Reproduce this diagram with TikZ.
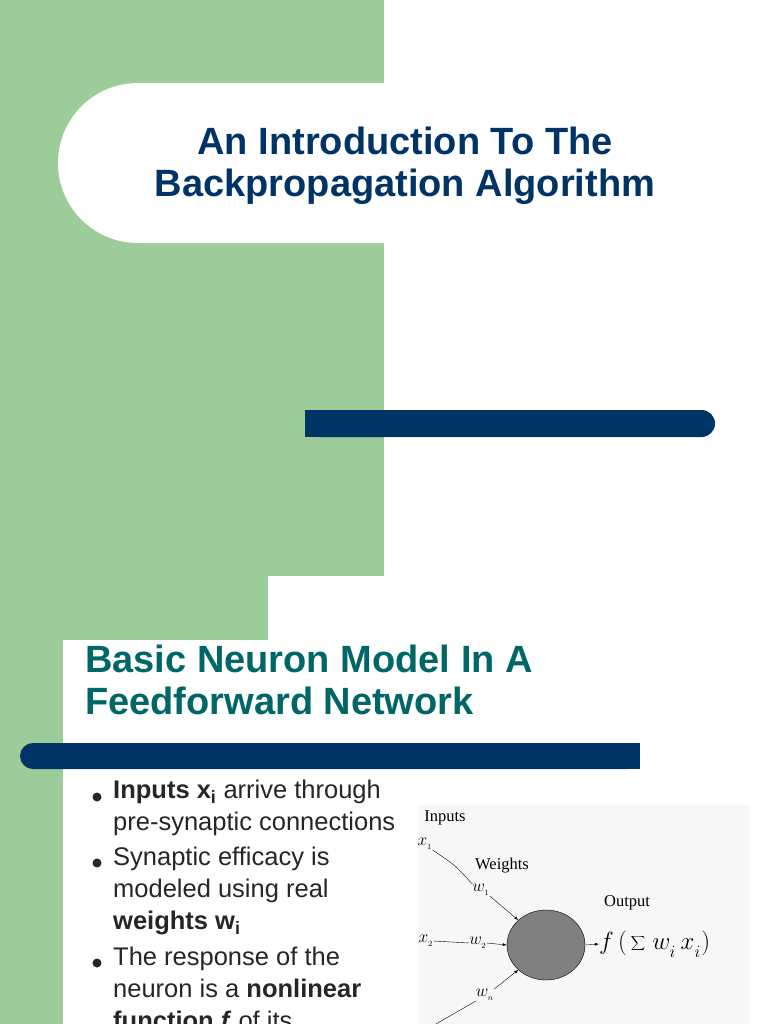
\documentclass[tikz,border=0pt]{standalone}
\usepackage{fontspec}
\usetikzlibrary{shapes.geometric}
\setmainfont{Liberation Sans}
\newfontfamily\serifa{Liberation Serif}
\begin{document}
\begin{tikzpicture}[x=1pt,y=-1pt,
  ttl/.style={font=\fontsize{38}{42}\selectfont\bfseries,align=center,text=titblue},
  ttl2/.style={font=\fontsize{38}{42}\selectfont\bfseries,align=left,text=titteal,anchor=north west,inner sep=0},
  bul/.style={font=\fontsize{25.5}{32}\selectfont,align=left,anchor=north west,inner sep=0,text=black!85},
  dia/.style={font=\serifa\fontsize{16.5}{18}\selectfont,inner sep=0},
  arr/.style={-latex,thin}]
\definecolor{grn}{HTML}{9BCC9A}
\definecolor{bar}{HTML}{003366}
\definecolor{titblue}{HTML}{003366}
\definecolor{titteal}{HTML}{006666}
\useasboundingbox (0,0) rectangle (768,1024);
\fill[white] (0,0) rectangle (768,1024);
% slide 1
\fill[grn] (0,0) rectangle (384,576);
\fill[white,rounded corners=80] (58,83) rectangle (900,243);
\node[ttl] (t1) at (405,166) {An Introduction To The\\Backpropagation Algorithm};
\fill[bar,rounded corners=13.5] (305,410) rectangle (715,437);
\fill[bar] (305,410) rectangle (340,437);
% slide 2
\fill[grn] (0,576) rectangle (268,640);
\fill[grn] (0,640) rectangle (63,1024);
\fill[white,rounded corners=35] (63,640) rectangle (900,1100);
\node[ttl2] (t2) at (85,645) {Basic Neuron Model In A\\Feedforward Network};
\fill[bar,rounded corners=13] (20,743) rectangle (640,769);
\fill[bar] (600,743) rectangle (640,769);
% bullets
\foreach \y in {797,863,963}{\fill[black!85] (97,\y) circle (4.5);}
\node[bul] (b1) at (113,780) {\textbf{Inputs x\textsubscript{i}} arrive through\\pre-synaptic connections};
\node[bul] (b2) at (113,847) {Synaptic efficacy is\\modeled using real\\\textbf{weights w\textsubscript{i}}};
\node[bul] (b3) at (113,947) {The response of the\\neuron is a \textbf{nonlinear}\\\textbf{function \textit{f}} of its};
% neuron diagram
\fill[black!3] (418,805) rectangle (750,1024);
\node[draw,fill=black!50,ellipse,minimum width=78,minimum height=70,inner sep=0] (n) at (546,945) {};
\node[dia] (in) at (445,818) {Inputs};
\node[dia] (x1) at (425,844) {$x_{_1}$};
\node[dia] (wt) at (502,866) {Weights};
\node[dia] (w1) at (481,890) {$w_{_1}$};
\node[dia] (op) at (627,903) {Output};
\node[dia] (x2) at (426,941) {$x_{_2}$};
\node[dia] (w2) at (478,943) {$w_{_2}$};
\node[dia] (wn) at (485,995) {$w_{_n}$};
\coordinate (xn) at (436,1024);
\node[inner sep=0,anchor=west,font=\fontsize{32}{34}\selectfont] (f) at (599,944) {$f\,\big(\,{\displaystyle\sum}\;w_{_i}\,x_{_i}\big)$};
\draw (x1.south east) .. controls (455,865) .. (w1.north west);
\draw[arr] (w1.south east) -- (n.north west);
\draw (x2.east) -- (w2.west);
\draw[arr] (w2.east) -- (n.west);
\draw (xn) -- (wn.south west);
\draw[arr] (wn.north east) -- (n.south west);
\draw[arr] (n.east) -- (f.west);
\end{tikzpicture}
\end{document}
